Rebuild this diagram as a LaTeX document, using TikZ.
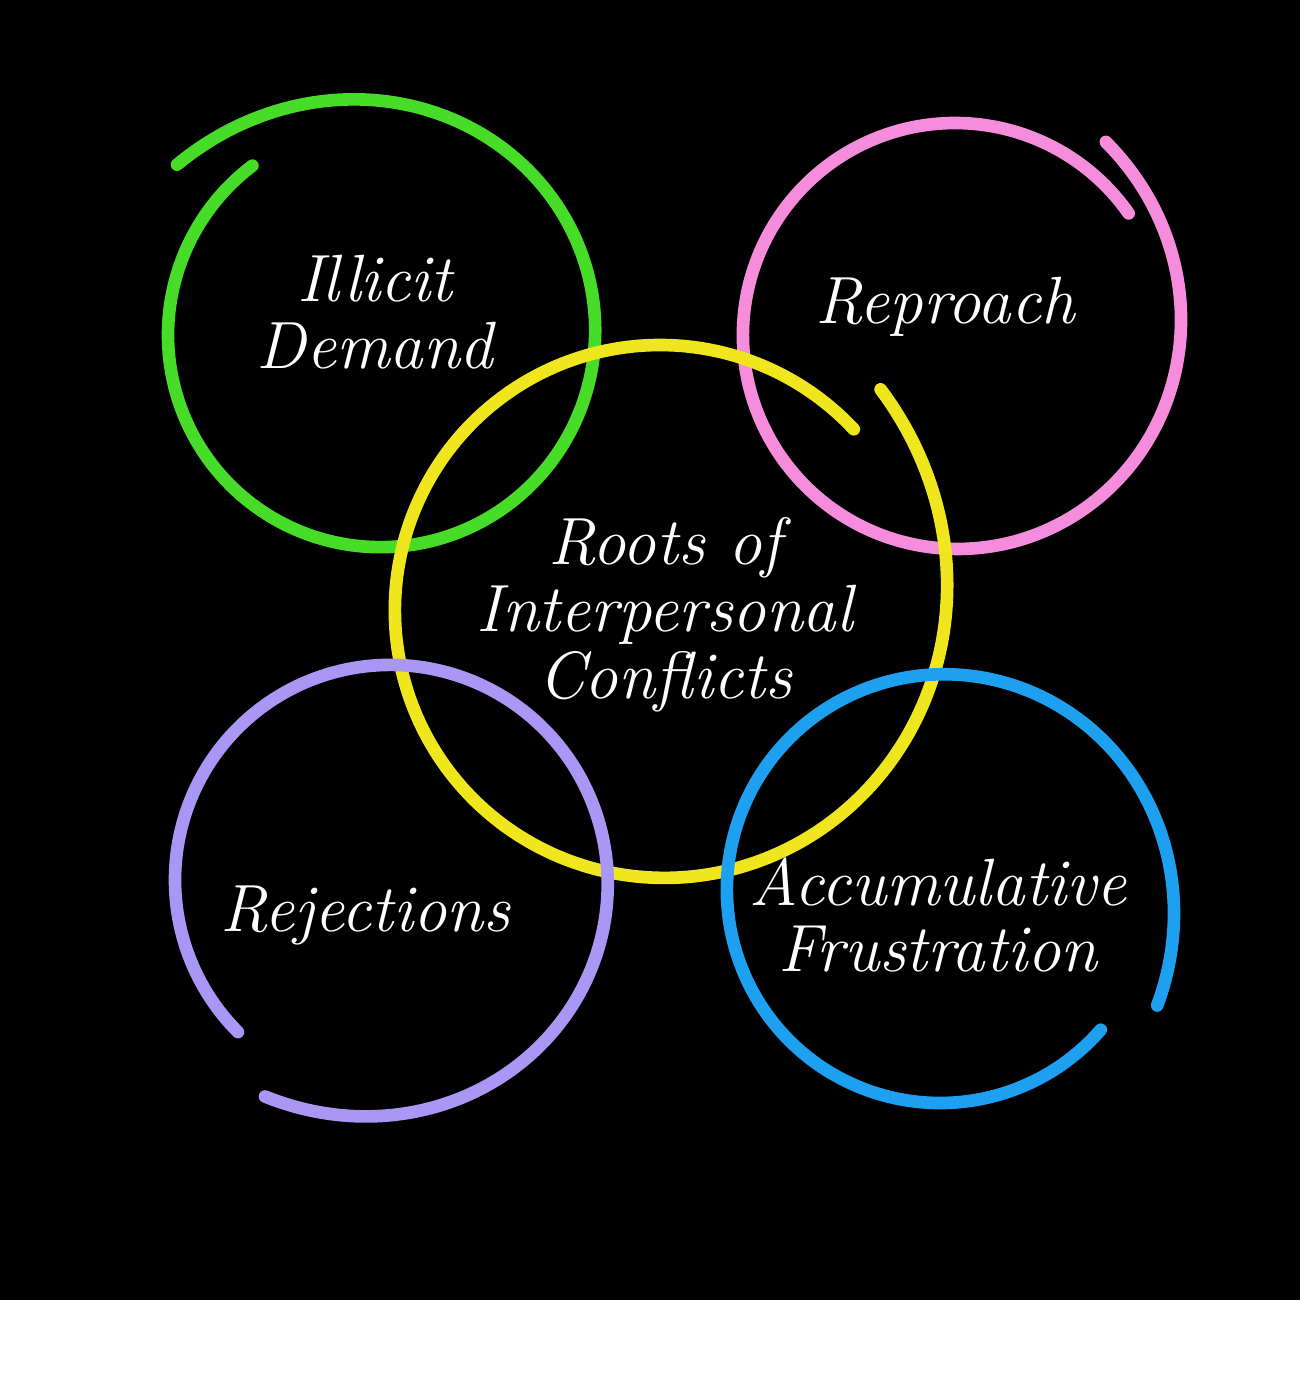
\documentclass[tikz,border=0pt]{standalone}
\begin{document}
\begin{tikzpicture}[x=0.01cm,y=-0.01cm,
  ring/.style={line width=3.6pt,line cap=round,line join=round},
  lbl/.style={text=white,font=\itshape\fontsize{19}{19}\selectfont,align=center}]
\fill[black] (0,0) rectangle (1300,1300);
\fill[white] (0,1300) rectangle (1300,1388);
\useasboundingbox (0,0) rectangle (1300,1388);
\newcommand{\myring}[7]{%
  \draw[ring,#7] plot[domain=#5:#6,samples=200,smooth]
   ({#1+(#3+(#4-#3)*pow((\x-#5)/(#6-#5),6))*cos(\x)},
    {#2-(#3+(#4-#3)*pow((\x-#5)/(#6-#5),6))*sin(\x)});}
\definecolor{gr}{RGB}{70,220,40}
\definecolor{pk}{RGB}{245,140,220}
\definecolor{ye}{RGB}{240,230,30}
\definecolor{pu}{RGB}{170,150,245}
\definecolor{bl}{RGB}{30,160,240}
\myring{380}{335}{212}{265}{127}{500}{gr}
\myring{955}{335}{212}{245}{35}{412}{pk}
\myring{660}{610}{265}{312}{43}{405}{ye}
\myring{390}{880}{215}{250}{225}{-120}{pu}
\myring{940}{890}{213}{246}{-41}{-388}{bl}
\node[lbl] (a) at (375,312) {Illicit\\Demand};
\node[lbl] (b) at (945,307) {Reproach};
\node[lbl] (c) at (665,615) {Roots of\\Interpersonal\\Conflicts};
\node[lbl] (d) at (365,915) {Rejections};
\node[lbl] (e) at (938,915) {Accumulative\\Frustration};
\end{tikzpicture}
\end{document}
